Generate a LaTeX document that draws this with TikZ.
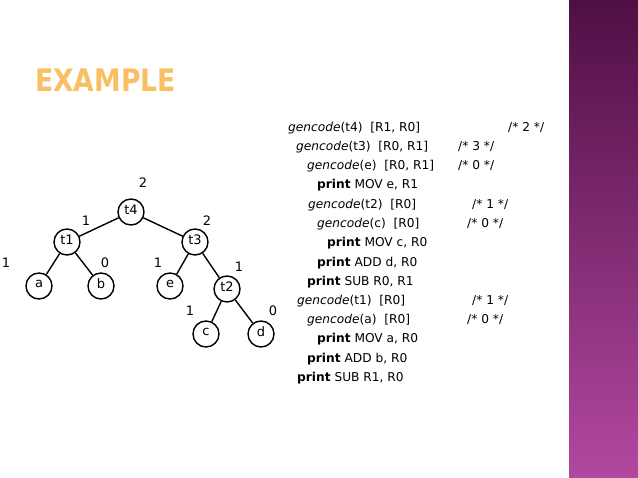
\documentclass[tikz,border=0pt]{standalone}
\usepackage{fontspec}
\setmainfont{DejaVu Sans}
\begin{document}
\begin{tikzpicture}[x=1pt,y=-1pt,
  tn/.style={circle,draw,line width=1.4pt,minimum size=26pt,inner sep=0pt,font=\fontsize{13}{14}\selectfont},
  ed/.style={line width=1.4pt},
  wl/.style={font=\fontsize{13}{14}\selectfont,inner sep=0pt},
  cl/.style={anchor=west,font=\fontsize{12.2}{14}\selectfont,inner sep=0pt},
  cmt/.style={anchor=west,font=\fontsize{12.2}{14}\selectfont,inner sep=0pt}]
\useasboundingbox (0,0) rectangle (638,478);
\fill[white] (0,0) rectangle (638,478);
\shade[top color={rgb,255:red,79;green,15;blue,69},bottom color={rgb,255:red,178;green,72;blue,160}] (569,0) rectangle (638,478);
\node[anchor=west,inner sep=0pt,font=\bfseries\fontsize{31}{34}\selectfont,xscale=0.86,text={rgb,255:red,250;green,190;blue,100}] (title) at (35,80) {EXAMPLE};
% tree
\node[tn] (t4) at (131,212) {\raisebox{4pt}{t4}};
\node[tn] (t1) at (67,242) {\raisebox{4pt}{t1}};
\node[tn] (t3) at (195,242) {\raisebox{4pt}{t3}};
\node[tn] (a) at (39,286) {\raisebox{4pt}{a}};
\node[tn] (b) at (101,286) {\raisebox{4pt}{b}};
\node[tn] (e) at (170,286) {\raisebox{4pt}{e}};
\node[tn] (t2) at (227,289) {\raisebox{4pt}{t2}};
\node[tn] (c) at (206,334) {\raisebox{4pt}{c}};
\node[tn] (d) at (261,334) {\raisebox{4pt}{d}};
\draw[ed] (t4)--(t1); \draw[ed] (t4)--(t3);
\draw[ed] (t1)--(a); \draw[ed] (t1)--(b);
\draw[ed] (t3)--(e); \draw[ed] (t3)--(t2);
\draw[ed] (t2)--(c); \draw[ed] (t2)--(d);
\node[wl] (l1) at (143,183) {2};
\node[wl] (l2) at (86,221) {1};
\node[wl] (l3) at (207,221) {2};
\node[wl] (l4) at (6,263) {1};
\node[wl] (l5) at (105,263) {0};
\node[wl] (l6) at (158,263) {1};
\node[wl] (l7) at (239,267) {1};
\node[wl] (l8) at (190,311) {1};
\node[wl] (l9) at (273,311) {0};
% code
\node[cl] (c1) at (288,128) {\textit{gencode}(t4)\ \ [R1, R0]};
\node[cmt] (m1) at (508,128) {/* 2 */};
\node[cl] (c2) at (296,147) {\textit{gencode}(t3)\ \ [R0, R1]};
\node[cmt] (m2) at (458,147) {/* 3 */};
\node[cl] (c3) at (307,166) {\textit{gencode}(e)\ \ [R0, R1]};
\node[cmt] (m3) at (458,166) {/* 0 */};
\node[cl] (c4) at (317,185) {\textbf{print} MOV e, R1};
\node[cl] (c5) at (308,205) {\textit{gencode}(t2)\ \ [R0]};
\node[cmt] (m5) at (472,205) {/* 1 */};
\node[cl] (c6) at (317,224) {\textit{gencode}(c)\ \ [R0]};
\node[cmt] (m6) at (467,224) {/* 0 */};
\node[cl] (c7) at (327,243) {\textbf{print} MOV c, R0};
\node[cl] (c8) at (317,263) {\textbf{print} ADD d, R0};
\node[cl] (c9) at (307,282) {\textbf{print} SUB R0, R1};
\node[cl] (c10) at (297,301) {\textit{gencode}(t1)\ \ [R0]};
\node[cmt] (m10) at (472,301) {/* 1 */};
\node[cl] (c11) at (307,320) {\textit{gencode}(a)\ \ [R0]};
\node[cmt] (m11) at (467,320) {/* 0 */};
\node[cl] (c12) at (317,339) {\textbf{print} MOV a, R0};
\node[cl] (c13) at (307,359) {\textbf{print} ADD b, R0};
\node[cl] (c14) at (297,378) {\textbf{print} SUB R1, R0};
\end{tikzpicture}
\end{document}
